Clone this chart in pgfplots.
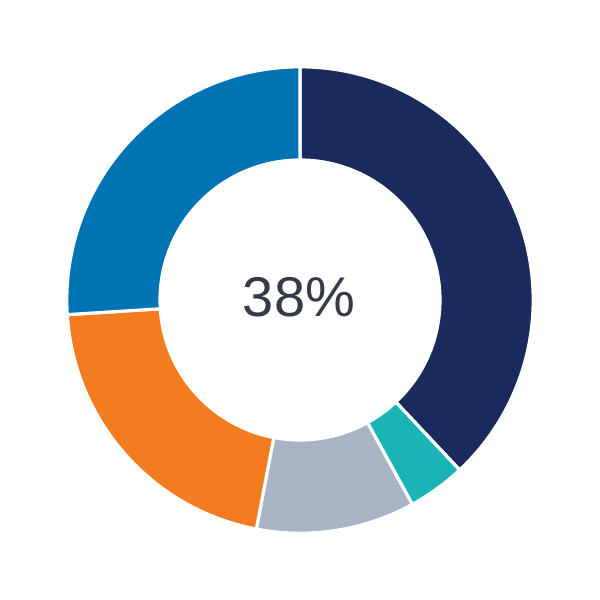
\documentclass[border=0pt]{standalone}
\usepackage{pgfplots}
\pgfplotsset{compat=1.18}
\usepackage{fontspec}
\setmainfont{Liberation Sans}

\definecolor{segnavy}{HTML}{1B2A5C}
\definecolor{segteal}{HTML}{1AB3B6}
\definecolor{seggray}{HTML}{A8B3C3}
\definecolor{segorange}{HTML}{F37C20}
\definecolor{segblue}{HTML}{0074B3}
\definecolor{labelgray}{HTML}{343A46}

% wedge from cumulative percent #2 to #3, clockwise from 12 o'clock
\newcommand\donutwedge[3]{%
  \fill[#1, draw=white, line width=1.6pt, line join=miter]
    (axis cs:0,0) ++({90-3.6*#2}:116.6pt)
    arc[start angle={90-3.6*#2}, end angle={90-3.6*#3}, radius=116.6pt]
    -- ++({90-3.6*#3+180}:46.6pt)
    arc[start angle={90-3.6*#3}, end angle={90-3.6*#2}, radius=70pt]
    -- cycle;}

\begin{document}
\begin{tikzpicture}
\begin{axis}[
    width=300pt, height=300pt, scale only axis,
    hide axis, clip=false,
    xmin=-300, xmax=300, ymin=-300, ymax=300,
]
\path (axis cs:-300,-300) rectangle (axis cs:300,300);
% shares: 38, 4, 11, 21, 26
\donutwedge{segnavy}{0}{38}
\donutwedge{segteal}{38}{42}
\donutwedge{seggray}{42}{53}
\donutwedge{segorange}{53}{74}
\donutwedge{segblue}{74}{100}
\node[text=labelgray, font=\fontsize{28}{30}\selectfont] at (axis cs:-1,3) {38\%};
\end{axis}
\end{tikzpicture}
\end{document}
